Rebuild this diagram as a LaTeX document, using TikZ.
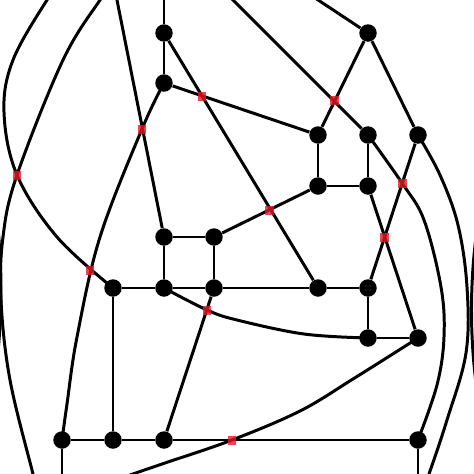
\documentclass[tikz,border=0pt]{standalone}
\pgfdeclarelayer{redl}
\pgfdeclarelayer{edgel}
\pgfsetlayers{edgel,redl,main}
\definecolor{xred}{RGB}{225,25,35}
\begin{document}
\begin{tikzpicture}[x=0.02cm,y=-0.02cm,
  vtx/.style={circle,fill=black,inner sep=0pt,minimum size=0.35cm},
  edge/.style={line width=1.7pt,black},
  xmark/.style={rectangle,fill=xred,fill opacity=0.8,inner sep=0pt,minimum size=0.18cm}]
\useasboundingbox (0,0) rectangle (474,474);
% vertices
\node[vtx] (A) at (164,33) {};
\node[vtx] (B) at (164,83) {};
\node[vtx] (C) at (368,33) {};
\node[vtx] (D) at (318,135) {};
\node[vtx] (E) at (368,135) {};
\node[vtx] (F) at (418,135) {};
\node[vtx] (G) at (318,186) {};
\node[vtx] (H) at (368,186) {};
\node[vtx] (I) at (164,237) {};
\node[vtx] (J) at (214,237) {};
\node[vtx] (K) at (113,288) {};
\node[vtx] (L) at (164,288) {};
\node[vtx] (M) at (214,288) {};
\node[vtx] (N) at (318,288) {};
\node[vtx] (O) at (368,288) {};
\node[vtx] (P) at (368,338) {};
\node[vtx] (Q) at (418,338) {};
\node[vtx] (R) at (62,440) {};
\node[vtx] (S) at (113,440) {};
\node[vtx] (T) at (164,440) {};
\node[vtx] (U) at (418,440) {};
% free ends
\coordinate (atop) at (164,-10);
\coordinate (ctop) at (303,-10);
\coordinate (etop) at (223,-10);
\coordinate (itop) at (115,-10);
\coordinate (ktop) at (60,-15);
\coordinate (rbot) at (62,484);
\coordinate (ubot) at (418,484);
\coordinate (qbot) at (118,480);
\coordinate (fbot) at (424,486);
\coordinate (wtop) at (112,-15);
\coordinate (wbot) at (37,490);
\coordinate (lpa) at (-8,180);
\coordinate (lpb) at (-8,400);
\coordinate (rpa) at (482,200);
\coordinate (rpb) at (482,420);
% crossing marks
\begin{pgfonlayer}{redl}
\foreach \p [count=\i] in {(202,96),(142,129),(334,100),(17,175),(269,210),(402,183),(384,237),(90,270),(207,310),(232,440)}
  \node[xmark] (x\i) at \p {};
\end{pgfonlayer}
% edges
\begin{pgfonlayer}{edgel}
\draw[edge] (A) -- (atop);
\draw[edge] (A) -- (B);
\draw[edge] (A) -- (N);
\draw[edge] (B) -- (D);
\draw[edge] (C) -- (D);
\draw[edge] (C) -- (F);
\draw[edge] (C) -- (ctop);
\draw[edge] (E) -- (etop);
\draw[edge] (D) -- (G);
\draw[edge] (G) -- (H);
\draw[edge] (H) -- (E);
\draw[edge] (G) -- (J);
\draw[edge] (F) -- (O);
\draw[edge] (H) -- (Q);
\draw[edge] (I) -- (J);
\draw[edge] (I) -- (L);
\draw[edge] (J) -- (M);
\draw[edge] (I) -- (itop);
\draw[edge] (K) -- (L);
\draw[edge] (L) -- (M);
\draw[edge] (M) -- (N);
\draw[edge] (N) -- (O);
\draw[edge] (O) -- (P);
\draw[edge] (P) -- (Q);
\draw[edge] (K) -- (S);
\draw[edge] (M) -- (T);
\draw[edge] (R) -- (S);
\draw[edge] (S) -- (T);
\draw[edge] (T) -- (U);
\draw[edge] (R) -- (rbot);
\draw[edge] (U) -- (ubot);
% curves
\draw[edge] plot[smooth,tension=0.6] coordinates {(K) (57,237) (17,175) (4,112) (13,60) (47,0) (ktop)};
\draw[edge] plot[smooth,tension=0.6] coordinates {(wtop) (100,0) (63,60) (17,175) (3,237) (1,300) (10,380) (33,474) (wbot)};
\draw[edge] plot[smooth,tension=0.6] coordinates {(B) (142,129) (100,237) (77,337) (67,404) (R)};
\draw[edge] plot[smooth,tension=0.6] coordinates {(L) (207,310) (237,320) (304,334) (P)};
\draw[edge] plot[smooth,tension=0.6] coordinates {(Q) (353,379) (300,411) (232,440) (165,463) (133,474) (qbot)};
\draw[edge] plot[smooth,tension=0.6] coordinates {(E) (402,183) (424,220) (441,287) (444,337) (437,385) (U)};
\draw[edge] plot[smooth,tension=0.6] coordinates {(F) (440,175) (458,225) (467,287) (466,353) (447,420) (429,474) (fbot)};
\draw[edge] (lpa) .. controls (4,260) and (4,320) .. (lpb);
\draw[edge] (rpa) .. controls (468,270) and (468,350) .. (rpb);
\end{pgfonlayer}
\end{tikzpicture}
\end{document}
